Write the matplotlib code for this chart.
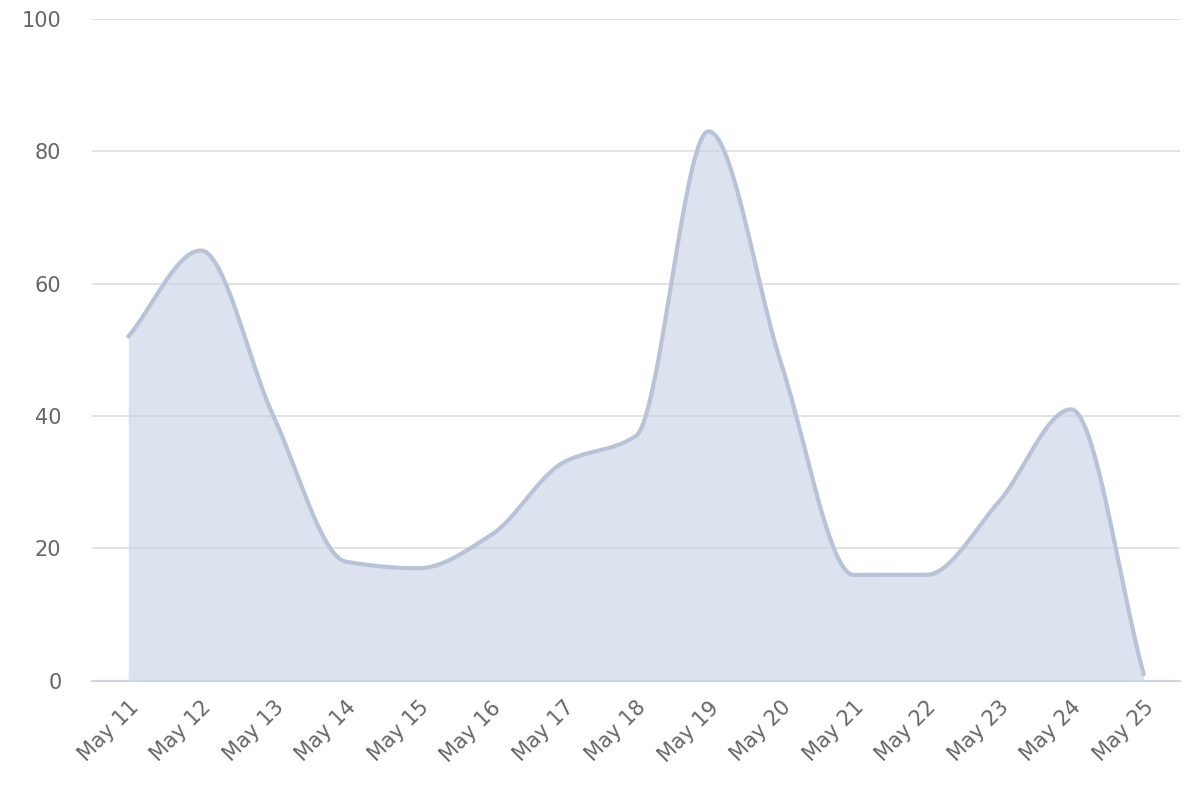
import numpy as np
import matplotlib
matplotlib.use("Agg")
import matplotlib.pyplot as plt

plt.rcParams['font.family'] = ['DejaVu Sans']

dates = ["May 11", "May 12", "May 13", "May 14", "May 15", "May 16", "May 17", "May 18",
         "May 19", "May 20", "May 21", "May 22", "May 23", "May 24", "May 25"]
values = [52, 65, 40, 18, 17, 22, 33, 37, 83, 48, 16, 16, 27, 41, 1]
yticks = [0, 20, 40, 60, 80, 100]


def monotone(x, y, n=40):
    # Fritsch-Carlson monotone cubic, only to draw the smooth line
    x = np.asarray(x, float)
    y = np.asarray(y, float)
    h = np.diff(x)
    d = np.diff(y) / h
    m = np.zeros_like(y)
    m[0], m[-1] = d[0], d[-1]
    for i in range(1, len(y) - 1):
        if d[i - 1] * d[i] <= 0:
            m[i] = 0
        else:
            m[i] = 2 / (1 / d[i - 1] + 1 / d[i])
    xs, ys = [], []
    for i in range(len(h)):
        t = np.linspace(0, 1, n, endpoint=False)
        h00 = 2 * t**3 - 3 * t**2 + 1
        h10 = t**3 - 2 * t**2 + t
        h01 = -2 * t**3 + 3 * t**2
        h11 = t**3 - t**2
        xs.append(x[i] + t * h[i])
        ys.append(h00 * y[i] + h10 * h[i] * m[i] + h01 * y[i + 1] + h11 * h[i] * m[i + 1])
    xs.append([x[-1]])
    ys.append([y[-1]])
    return np.concatenate(xs), np.concatenate(ys)


x = np.arange(len(dates))
sx, sy = monotone(x, values)

fig = plt.figure(figsize=(12, 8), dpi=100)
ax = fig.add_axes([0.0767, 0.149, 0.9066, 0.8275])

ax.fill_between(sx, sy, 0, color="#c5d0e3", alpha=0.6, linewidth=0, zorder=2)
ax.plot(sx, sy, color="#b8c3d7", linewidth=3, solid_capstyle="round", zorder=3)

ax.set_xlim(-0.5, len(dates) - 0.5)
ax.set_ylim(0, 100)
ax.set_yticks(yticks)
ax.set_xticks(x)
ax.set_xticklabels(dates, rotation=45, ha="right", rotation_mode="anchor")
ax.grid(axis="y", color="#e0e0e3", linewidth=1.3, zorder=0)
ax.set_axisbelow(True)

for s in ["top", "right", "left"]:
    ax.spines[s].set_visible(False)
ax.spines["bottom"].set_color("#ccd6eb")
ax.spines["bottom"].set_linewidth(1.5)
ax.spines["bottom"].set_zorder(4)
ax.tick_params(axis="both", length=0, labelsize=15, labelcolor="#666666")
ax.tick_params(axis="y", pad=22)
ax.tick_params(axis="x", pad=12)

fig.savefig("out.png", dpi=100)
